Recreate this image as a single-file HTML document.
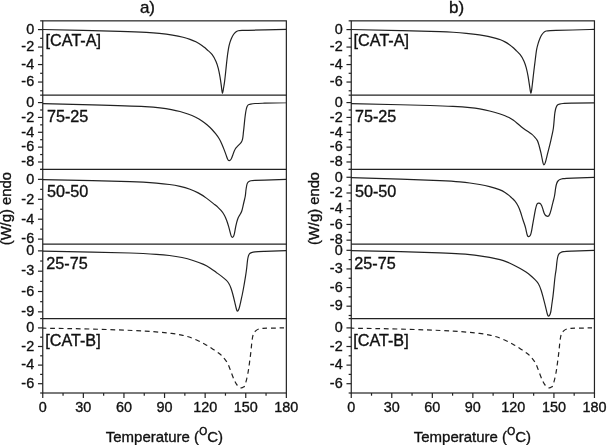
<!DOCTYPE html><html><head><meta charset="utf-8"><style>html,body{margin:0;padding:0;background:#fff;}svg{display:block;filter:blur(0.35px)}text{font-family:"Liberation Sans",Arial,sans-serif;fill:#111;stroke:#111;stroke-width:0.35px}</style></head><body>
<svg width="609" height="445" viewBox="0 0 609 445">
<g><rect x="42.75" y="20.85" width="243.6" height="372.15" fill="none" stroke="#222" stroke-width="1.2"/><line x1="42.75" y1="95.15" x2="286.35" y2="95.15" stroke="#222" stroke-width="1.2"/><line x1="42.75" y1="169.4" x2="286.35" y2="169.4" stroke="#222" stroke-width="1.2"/><line x1="42.75" y1="244.1" x2="286.35" y2="244.1" stroke="#222" stroke-width="1.2"/><line x1="42.75" y1="318.6" x2="286.35" y2="318.6" stroke="#222" stroke-width="1.2"/><line x1="40.15" y1="20.85" x2="42.75" y2="20.85" stroke="#222" stroke-width="1.2"/><line x1="37.95" y1="29.59" x2="42.75" y2="29.59" stroke="#222" stroke-width="1.2"/><line x1="40.15" y1="38.33" x2="42.75" y2="38.33" stroke="#222" stroke-width="1.2"/><line x1="37.95" y1="47.07" x2="42.75" y2="47.07" stroke="#222" stroke-width="1.2"/><line x1="40.15" y1="55.81" x2="42.75" y2="55.81" stroke="#222" stroke-width="1.2"/><line x1="37.95" y1="64.56" x2="42.75" y2="64.56" stroke="#222" stroke-width="1.2"/><line x1="40.15" y1="73.3" x2="42.75" y2="73.3" stroke="#222" stroke-width="1.2"/><line x1="37.95" y1="82.04" x2="42.75" y2="82.04" stroke="#222" stroke-width="1.2"/><line x1="40.15" y1="90.78" x2="42.75" y2="90.78" stroke="#222" stroke-width="1.2"/><text x="34.15" y="33.89" font-size="14.4" text-anchor="end">0</text><text x="34.15" y="51.37" font-size="14.4" text-anchor="end">-2</text><text x="34.15" y="68.86" font-size="14.4" text-anchor="end">-4</text><text x="34.15" y="86.34" font-size="14.4" text-anchor="end">-6</text><text x="45.6" y="46.3" font-size="16.2">[CAT-A]</text><line x1="40.15" y1="95.15" x2="42.75" y2="95.15" stroke="#222" stroke-width="1.2"/><line x1="37.95" y1="102.58" x2="42.75" y2="102.58" stroke="#222" stroke-width="1.2"/><line x1="40.15" y1="110" x2="42.75" y2="110" stroke="#222" stroke-width="1.2"/><line x1="37.95" y1="117.43" x2="42.75" y2="117.43" stroke="#222" stroke-width="1.2"/><line x1="40.15" y1="124.85" x2="42.75" y2="124.85" stroke="#222" stroke-width="1.2"/><line x1="37.95" y1="132.28" x2="42.75" y2="132.28" stroke="#222" stroke-width="1.2"/><line x1="40.15" y1="139.7" x2="42.75" y2="139.7" stroke="#222" stroke-width="1.2"/><line x1="37.95" y1="147.12" x2="42.75" y2="147.12" stroke="#222" stroke-width="1.2"/><line x1="40.15" y1="154.55" x2="42.75" y2="154.55" stroke="#222" stroke-width="1.2"/><line x1="37.95" y1="161.98" x2="42.75" y2="161.98" stroke="#222" stroke-width="1.2"/><line x1="40.15" y1="169.4" x2="42.75" y2="169.4" stroke="#222" stroke-width="1.2"/><text x="34.15" y="106.88" font-size="14.4" text-anchor="end">0</text><text x="34.15" y="121.73" font-size="14.4" text-anchor="end">-2</text><text x="34.15" y="136.58" font-size="14.4" text-anchor="end">-4</text><text x="34.15" y="151.43" font-size="14.4" text-anchor="end">-6</text><text x="34.15" y="166.28" font-size="14.4" text-anchor="end">-8</text><text x="46.9" y="122.2" font-size="16.2">75-25</text><line x1="40.15" y1="169.4" x2="42.75" y2="169.4" stroke="#222" stroke-width="1.2"/><line x1="37.95" y1="179.36" x2="42.75" y2="179.36" stroke="#222" stroke-width="1.2"/><line x1="40.15" y1="189.32" x2="42.75" y2="189.32" stroke="#222" stroke-width="1.2"/><line x1="37.95" y1="199.28" x2="42.75" y2="199.28" stroke="#222" stroke-width="1.2"/><line x1="40.15" y1="209.24" x2="42.75" y2="209.24" stroke="#222" stroke-width="1.2"/><line x1="37.95" y1="219.2" x2="42.75" y2="219.2" stroke="#222" stroke-width="1.2"/><line x1="40.15" y1="229.16" x2="42.75" y2="229.16" stroke="#222" stroke-width="1.2"/><line x1="37.95" y1="239.12" x2="42.75" y2="239.12" stroke="#222" stroke-width="1.2"/><text x="34.15" y="183.66" font-size="14.4" text-anchor="end">0</text><text x="34.15" y="203.58" font-size="14.4" text-anchor="end">-2</text><text x="34.15" y="223.5" font-size="14.4" text-anchor="end">-4</text><text x="34.15" y="243.42" font-size="14.4" text-anchor="end">-6</text><text x="46.9" y="196.7" font-size="16.2">50-50</text><line x1="37.95" y1="250.87" x2="42.75" y2="250.87" stroke="#222" stroke-width="1.2"/><line x1="40.15" y1="261.03" x2="42.75" y2="261.03" stroke="#222" stroke-width="1.2"/><line x1="37.95" y1="271.19" x2="42.75" y2="271.19" stroke="#222" stroke-width="1.2"/><line x1="40.15" y1="281.35" x2="42.75" y2="281.35" stroke="#222" stroke-width="1.2"/><line x1="37.95" y1="291.51" x2="42.75" y2="291.51" stroke="#222" stroke-width="1.2"/><line x1="40.15" y1="301.67" x2="42.75" y2="301.67" stroke="#222" stroke-width="1.2"/><line x1="37.95" y1="311.83" x2="42.75" y2="311.83" stroke="#222" stroke-width="1.2"/><text x="34.15" y="255.17" font-size="14.4" text-anchor="end">0</text><text x="34.15" y="275.49" font-size="14.4" text-anchor="end">-3</text><text x="34.15" y="295.81" font-size="14.4" text-anchor="end">-6</text><text x="34.15" y="316.13" font-size="14.4" text-anchor="end">-9</text><text x="46.3" y="268.8" font-size="16.2">25-75</text><line x1="40.15" y1="318.6" x2="42.75" y2="318.6" stroke="#222" stroke-width="1.2"/><line x1="37.95" y1="327.9" x2="42.75" y2="327.9" stroke="#222" stroke-width="1.2"/><line x1="40.15" y1="337.2" x2="42.75" y2="337.2" stroke="#222" stroke-width="1.2"/><line x1="37.95" y1="346.5" x2="42.75" y2="346.5" stroke="#222" stroke-width="1.2"/><line x1="40.15" y1="355.8" x2="42.75" y2="355.8" stroke="#222" stroke-width="1.2"/><line x1="37.95" y1="365.1" x2="42.75" y2="365.1" stroke="#222" stroke-width="1.2"/><line x1="40.15" y1="374.4" x2="42.75" y2="374.4" stroke="#222" stroke-width="1.2"/><line x1="37.95" y1="383.7" x2="42.75" y2="383.7" stroke="#222" stroke-width="1.2"/><line x1="40.15" y1="393" x2="42.75" y2="393" stroke="#222" stroke-width="1.2"/><text x="34.15" y="332.2" font-size="14.4" text-anchor="end">0</text><text x="34.15" y="350.8" font-size="14.4" text-anchor="end">-2</text><text x="34.15" y="369.4" font-size="14.4" text-anchor="end">-4</text><text x="34.15" y="388" font-size="14.4" text-anchor="end">-6</text><text x="45.2" y="345.5" font-size="16.2">[CAT-B]</text><line x1="42.75" y1="393" x2="42.75" y2="398" stroke="#222" stroke-width="1.2"/><text x="42.75" y="411.7" font-size="14.4" text-anchor="middle">0</text><line x1="63.05" y1="393" x2="63.05" y2="395.7" stroke="#222" stroke-width="1.2"/><line x1="83.35" y1="393" x2="83.35" y2="398" stroke="#222" stroke-width="1.2"/><text x="83.35" y="411.7" font-size="14.4" text-anchor="middle">30</text><line x1="103.65" y1="393" x2="103.65" y2="395.7" stroke="#222" stroke-width="1.2"/><line x1="123.95" y1="393" x2="123.95" y2="398" stroke="#222" stroke-width="1.2"/><text x="123.95" y="411.7" font-size="14.4" text-anchor="middle">60</text><line x1="144.25" y1="393" x2="144.25" y2="395.7" stroke="#222" stroke-width="1.2"/><line x1="164.55" y1="393" x2="164.55" y2="398" stroke="#222" stroke-width="1.2"/><text x="164.55" y="411.7" font-size="14.4" text-anchor="middle">90</text><line x1="184.85" y1="393" x2="184.85" y2="395.7" stroke="#222" stroke-width="1.2"/><line x1="205.15" y1="393" x2="205.15" y2="398" stroke="#222" stroke-width="1.2"/><text x="205.15" y="411.7" font-size="14.4" text-anchor="middle">120</text><line x1="225.45" y1="393" x2="225.45" y2="395.7" stroke="#222" stroke-width="1.2"/><line x1="245.75" y1="393" x2="245.75" y2="398" stroke="#222" stroke-width="1.2"/><text x="245.75" y="411.7" font-size="14.4" text-anchor="middle">150</text><line x1="266.05" y1="393" x2="266.05" y2="395.7" stroke="#222" stroke-width="1.2"/><line x1="286.35" y1="393" x2="286.35" y2="398" stroke="#222" stroke-width="1.2"/><text x="286.35" y="411.7" font-size="14.4" text-anchor="middle">180</text><text transform="translate(105.7,441.7)" font-size="15">Temperature (</text><text x="199.2" y="435.1" font-size="10.2" style="stroke-width:0.5px">O</text><text transform="translate(207.2,441.7)" font-size="15">C)</text><text x="139.9" y="12.6" font-size="17">a)</text><path d="M43 29.5C56.39 29.75 69.78 30 83 30.29C95.71 30.57 108.26 30.9 120 31.28C129.9 31.61 139.22 31.98 146.3 32.37C151.3 32.64 155.17 32.92 159.4 33.35C163.64 33.78 168.23 34.35 172.5 35.05C176.37 35.69 179.97 36.44 183.1 37.23C185.65 37.88 187.89 38.56 190 39.31C192 40.02 193.89 40.8 195.9 41.84C198 42.92 200.24 44.29 201.9 45.43C203.14 46.27 204.06 46.99 205 47.8C205.98 48.64 206.98 49.59 208.1 50.59C209.42 51.76 210.9 53.01 212.2 54.7C213.72 56.67 215.01 59.25 216 61.6C216.93 63.79 217.6 65.79 218.2 68.1C218.89 70.75 219.48 73.81 220 76.9C220.52 79.98 220.97 83.09 221.3 85.7C221.56 87.76 221.75 89.51 222 91.2C222.15 92.25 222.33 93.28 222.5 93.3C222.69 93.32 222.88 92.13 223.1 90.8C223.51 88.34 224.04 85.42 224.5 82.1C225.05 78.14 225.5 73.61 225.9 69.6C226.27 65.96 226.6 62.74 227 59.3C227.4 55.88 227.88 52.24 228.4 49.2C228.82 46.78 229.26 44.74 229.8 42.9C230.26 41.34 230.78 39.92 231.4 38.5C232.01 37.1 232.7 35.69 233.5 34.5C234.2 33.46 234.98 32.58 235.8 31.95C236.52 31.38 237.26 31 238.2 30.78C239.35 30.51 240.79 30.48 242.2 30.44C243.9 30.39 245.56 30.35 248 30.29C252.18 30.18 258.63 30.04 265 29.9C272.08 29.74 279.04 29.57 286 29.4" fill="none" stroke="#222" stroke-width="1.2" stroke-linejoin="round"/><path d="M43 103.7C58.66 104.07 74.32 104.45 92.5 104.93C111.23 105.43 132.63 106.04 145 106.65C151.62 106.98 155.66 107.31 160 107.83C163.8 108.29 167.84 108.89 171.4 109.55C174.52 110.13 177.27 110.76 180 111.5C182.65 112.21 185.27 113.03 187.9 113.98C190.56 114.95 193.23 116.06 195.7 117.28C197.99 118.41 200.1 119.64 202 120.92C203.77 122.11 205.35 123.36 207 124.78C208.72 126.26 210.51 127.93 212 129.51C213.34 130.92 214.44 132.25 215.6 133.73C216.83 135.29 218.12 137.01 219.2 138.8C220.26 140.56 221.12 142.4 221.9 144.2C222.67 145.97 223.38 147.72 224.1 149.6C224.88 151.61 225.68 153.78 226.4 155.9C227 157.65 227.54 159.38 228.2 160.1C228.53 160.47 228.89 160.58 229.3 160.53C229.81 160.47 230.4 160.15 230.9 159.5C231.78 158.36 232.4 156.19 233.1 154.1C233.8 152 234.58 149.99 235.4 148.7C235.96 147.82 236.55 147.28 237.2 146.63C237.9 145.93 238.68 145.11 239.4 144.4C240.07 143.74 240.69 143.18 241.2 142.4C241.82 141.47 242.29 140.22 242.6 138.8C242.97 137.12 243.12 135.2 243.3 133.4C243.48 131.6 243.69 129.93 243.9 128C244.14 125.81 244.37 123.29 244.6 121C244.82 118.87 245.04 116.94 245.3 115C245.54 113.23 245.81 111.46 246.1 110C246.33 108.86 246.56 107.92 246.9 107C247.2 106.18 247.58 105.39 248.2 104.9C248.84 104.39 249.73 104.21 250.7 104.04C251.94 103.83 253.33 103.64 255 103.52C257.49 103.34 260.64 103.3 264.6 103.21C270.52 103.08 278.26 102.84 286 102.6" fill="none" stroke="#222" stroke-width="1.2" stroke-linejoin="round"/><path d="M43 179.7C59.56 179.98 76.12 180.25 92.5 180.61C106.76 180.93 120.89 181.31 130 181.63C135.38 181.82 139.01 181.99 143.1 182.22C147.21 182.46 151.77 182.76 156.3 183.13C160.82 183.49 165.29 183.93 169.4 184.48C173.12 184.98 176.54 185.58 180 186.38C183.4 187.18 186.85 188.18 190 189.31C192.92 190.35 195.59 191.51 198.2 192.9C200.92 194.35 203.57 196.05 206.4 198.12C209.33 200.27 212.45 202.8 214.6 204.52C216 205.64 217 206.41 218 207.33C219 208.25 220 209.31 221 210.47C222.1 211.74 223.18 213.13 224.1 214.7C225.09 216.38 225.88 218.26 226.6 220.2C227.34 222.2 228.01 224.25 228.6 226.3C229.2 228.42 229.72 230.53 230.3 232.9C230.79 234.88 231.32 237.03 232.1 237.3C232.62 237.48 233.24 236.83 233.7 235.9C234.51 234.25 234.79 231.73 235.2 229.3C235.62 226.8 236.17 224.39 236.7 222.3C237.14 220.58 237.56 219.08 238.2 217.7C238.78 216.44 239.55 215.27 240.2 214.2C240.79 213.23 241.29 212.34 241.7 211.2C242.21 209.77 242.6 207.94 243 206.1C243.42 204.17 243.87 202.23 244.3 200.5C244.68 198.95 245.05 197.58 245.3 196C245.57 194.27 245.69 192.3 245.9 190.5C246.09 188.87 246.34 187.38 246.6 186C246.81 184.85 247.03 183.78 247.5 183C247.88 182.37 248.42 181.94 249 181.59C249.59 181.22 250.22 180.94 251 180.77C252.06 180.53 253.39 180.49 255 180.44C257.49 180.37 260.64 180.27 264.6 180.15C270.52 179.95 278.26 179.68 286 179.4" fill="none" stroke="#222" stroke-width="1.2" stroke-linejoin="round"/><path d="M43 251.1C59.56 251.43 76.11 251.76 92.5 252.11C106.76 252.42 120.9 252.75 130 253.02C135.38 253.18 139 253.32 143.1 253.52C147.22 253.73 151.84 253.99 156.3 254.3C160.75 254.61 165.06 254.96 169.4 255.49C173.68 256.01 177.99 256.69 182 257.53C185.79 258.34 189.31 259.28 193 260.46C196.68 261.63 200.53 263.02 203.6 264.39C206.07 265.5 208.03 266.6 210 267.89C211.98 269.19 213.95 270.67 216 272.18C218.06 273.68 220.2 275.21 222 276.6C223.49 277.76 224.76 278.83 225.9 279.92C226.95 280.92 227.89 281.94 228.7 283.2C229.61 284.62 230.35 286.34 231 288.2C231.74 290.31 232.38 292.59 233 295C233.66 297.56 234.3 300.27 234.9 302.8C235.43 305.05 235.92 307.16 236.4 309C236.69 310.13 236.98 311.16 237.4 311.2C237.84 311.24 238.44 310.18 238.9 309C239.62 307.17 240.03 305.03 240.5 302.8C241.03 300.31 241.64 297.69 242.2 295C242.8 292.12 243.34 289.17 243.9 286C244.49 282.65 245.1 279.06 245.6 275.9C246.04 273.11 246.4 270.65 246.7 268C246.99 265.42 247.22 262.67 247.5 260.5C247.71 258.87 247.94 257.56 248.3 256.3C248.6 255.24 249 254.22 249.6 253.6C250.11 253.08 250.76 252.84 251.5 252.62C252.46 252.33 253.56 252.07 255 251.89C257.35 251.61 260.59 251.55 264.6 251.45C270.59 251.28 278.29 250.99 286 250.7" fill="none" stroke="#222" stroke-width="1.2" stroke-linejoin="round"/><path d="M43 328.2C59.06 328.42 75.11 328.64 92.5 329.08C110.43 329.54 129.78 330.24 145.1 331.17C155.95 331.82 164.78 332.6 171.4 333.41C175.56 333.92 178.85 334.45 181.7 335.04C184.01 335.51 186.03 336.03 188.3 336.76C190.89 337.6 193.81 338.73 196.6 339.98C199.45 341.25 202.17 342.66 204.9 344.21C207.71 345.8 210.52 347.54 213.3 349.4C215.81 351.08 218.3 352.85 219.9 354.09C220.91 354.87 221.57 355.44 222.3 356.22C223.12 357.11 224.03 358.27 224.9 359.37C225.84 360.55 226.74 361.67 227.6 363.3C228.81 365.6 229.94 368.92 231.1 372.1C232.25 375.26 233.42 378.28 234.6 380.8C235.5 382.73 236.41 384.36 237.4 385.5C238.12 386.32 238.88 386.88 239.6 387.32C240.19 387.68 240.74 387.95 241.4 387.9C242.12 387.85 242.95 387.42 243.5 387.1C243.94 386.85 244.2 386.68 244.5 386.1C245.28 384.63 246.36 380.56 247.1 377.3C247.8 374.21 248.21 371.85 248.6 369.2C249.01 366.45 249.4 363.38 249.8 360.4C250.19 357.44 250.59 354.57 250.9 351.7C251.2 348.92 251.42 346.14 251.7 343.5C251.95 341.14 252.24 338.89 252.6 337C252.88 335.53 253.21 334.28 253.8 333.2C254.35 332.2 255.12 331.35 256 330.63C256.89 329.9 257.89 329.3 259 328.94C260.2 328.55 261.51 328.44 263 328.36C264.96 328.25 267.21 328.19 270 328.13C273.95 328.05 278.97 327.98 284 327.9" fill="none" stroke="#222" stroke-width="1.2" stroke-linejoin="round" stroke-dasharray="4.8 3.8" stroke-dashoffset="1.4"/></g>
<g><rect x="351.25" y="20.85" width="243.2" height="372.15" fill="none" stroke="#222" stroke-width="1.2"/><line x1="351.25" y1="95.15" x2="594.45" y2="95.15" stroke="#222" stroke-width="1.2"/><line x1="351.25" y1="169.4" x2="594.45" y2="169.4" stroke="#222" stroke-width="1.2"/><line x1="351.25" y1="244.1" x2="594.45" y2="244.1" stroke="#222" stroke-width="1.2"/><line x1="351.25" y1="318.6" x2="594.45" y2="318.6" stroke="#222" stroke-width="1.2"/><line x1="348.65" y1="20.85" x2="351.25" y2="20.85" stroke="#222" stroke-width="1.2"/><line x1="346.45" y1="29.59" x2="351.25" y2="29.59" stroke="#222" stroke-width="1.2"/><line x1="348.65" y1="38.33" x2="351.25" y2="38.33" stroke="#222" stroke-width="1.2"/><line x1="346.45" y1="47.07" x2="351.25" y2="47.07" stroke="#222" stroke-width="1.2"/><line x1="348.65" y1="55.81" x2="351.25" y2="55.81" stroke="#222" stroke-width="1.2"/><line x1="346.45" y1="64.56" x2="351.25" y2="64.56" stroke="#222" stroke-width="1.2"/><line x1="348.65" y1="73.3" x2="351.25" y2="73.3" stroke="#222" stroke-width="1.2"/><line x1="346.45" y1="82.04" x2="351.25" y2="82.04" stroke="#222" stroke-width="1.2"/><line x1="348.65" y1="90.78" x2="351.25" y2="90.78" stroke="#222" stroke-width="1.2"/><text x="342.65" y="33.89" font-size="14.4" text-anchor="end">0</text><text x="342.65" y="51.37" font-size="14.4" text-anchor="end">-2</text><text x="342.65" y="68.86" font-size="14.4" text-anchor="end">-4</text><text x="342.65" y="86.34" font-size="14.4" text-anchor="end">-6</text><text x="353.6" y="46.3" font-size="16.2">[CAT-A]</text><line x1="348.65" y1="95.15" x2="351.25" y2="95.15" stroke="#222" stroke-width="1.2"/><line x1="346.45" y1="102.58" x2="351.25" y2="102.58" stroke="#222" stroke-width="1.2"/><line x1="348.65" y1="110" x2="351.25" y2="110" stroke="#222" stroke-width="1.2"/><line x1="346.45" y1="117.43" x2="351.25" y2="117.43" stroke="#222" stroke-width="1.2"/><line x1="348.65" y1="124.85" x2="351.25" y2="124.85" stroke="#222" stroke-width="1.2"/><line x1="346.45" y1="132.28" x2="351.25" y2="132.28" stroke="#222" stroke-width="1.2"/><line x1="348.65" y1="139.7" x2="351.25" y2="139.7" stroke="#222" stroke-width="1.2"/><line x1="346.45" y1="147.12" x2="351.25" y2="147.12" stroke="#222" stroke-width="1.2"/><line x1="348.65" y1="154.55" x2="351.25" y2="154.55" stroke="#222" stroke-width="1.2"/><line x1="346.45" y1="161.98" x2="351.25" y2="161.98" stroke="#222" stroke-width="1.2"/><line x1="348.65" y1="169.4" x2="351.25" y2="169.4" stroke="#222" stroke-width="1.2"/><text x="342.65" y="106.88" font-size="14.4" text-anchor="end">0</text><text x="342.65" y="121.73" font-size="14.4" text-anchor="end">-2</text><text x="342.65" y="136.58" font-size="14.4" text-anchor="end">-4</text><text x="342.65" y="151.43" font-size="14.4" text-anchor="end">-6</text><text x="342.65" y="166.28" font-size="14.4" text-anchor="end">-8</text><text x="354.9" y="122.2" font-size="16.2">75-25</text><line x1="348.65" y1="169.4" x2="351.25" y2="169.4" stroke="#222" stroke-width="1.2"/><line x1="346.45" y1="177.26" x2="351.25" y2="177.26" stroke="#222" stroke-width="1.2"/><line x1="348.65" y1="185.13" x2="351.25" y2="185.13" stroke="#222" stroke-width="1.2"/><line x1="346.45" y1="192.99" x2="351.25" y2="192.99" stroke="#222" stroke-width="1.2"/><line x1="348.65" y1="200.85" x2="351.25" y2="200.85" stroke="#222" stroke-width="1.2"/><line x1="346.45" y1="208.72" x2="351.25" y2="208.72" stroke="#222" stroke-width="1.2"/><line x1="348.65" y1="216.58" x2="351.25" y2="216.58" stroke="#222" stroke-width="1.2"/><line x1="346.45" y1="224.44" x2="351.25" y2="224.44" stroke="#222" stroke-width="1.2"/><line x1="348.65" y1="232.31" x2="351.25" y2="232.31" stroke="#222" stroke-width="1.2"/><line x1="346.45" y1="240.17" x2="351.25" y2="240.17" stroke="#222" stroke-width="1.2"/><text x="342.65" y="181.56" font-size="14.4" text-anchor="end">0</text><text x="342.65" y="197.29" font-size="14.4" text-anchor="end">-2</text><text x="342.65" y="213.02" font-size="14.4" text-anchor="end">-4</text><text x="342.65" y="228.74" font-size="14.4" text-anchor="end">-6</text><text x="342.65" y="244.47" font-size="14.4" text-anchor="end">-8</text><text x="354.9" y="196.7" font-size="16.2">50-50</text><line x1="346.45" y1="250.31" x2="351.25" y2="250.31" stroke="#222" stroke-width="1.2"/><line x1="348.65" y1="259.62" x2="351.25" y2="259.62" stroke="#222" stroke-width="1.2"/><line x1="346.45" y1="268.93" x2="351.25" y2="268.93" stroke="#222" stroke-width="1.2"/><line x1="348.65" y1="278.25" x2="351.25" y2="278.25" stroke="#222" stroke-width="1.2"/><line x1="346.45" y1="287.56" x2="351.25" y2="287.56" stroke="#222" stroke-width="1.2"/><line x1="348.65" y1="296.87" x2="351.25" y2="296.87" stroke="#222" stroke-width="1.2"/><line x1="346.45" y1="306.18" x2="351.25" y2="306.18" stroke="#222" stroke-width="1.2"/><line x1="348.65" y1="315.5" x2="351.25" y2="315.5" stroke="#222" stroke-width="1.2"/><text x="342.65" y="254.61" font-size="14.4" text-anchor="end">0</text><text x="342.65" y="273.23" font-size="14.4" text-anchor="end">-3</text><text x="342.65" y="291.86" font-size="14.4" text-anchor="end">-6</text><text x="342.65" y="310.48" font-size="14.4" text-anchor="end">-9</text><text x="354.3" y="268.8" font-size="16.2">25-75</text><line x1="348.65" y1="318.6" x2="351.25" y2="318.6" stroke="#222" stroke-width="1.2"/><line x1="346.45" y1="327.9" x2="351.25" y2="327.9" stroke="#222" stroke-width="1.2"/><line x1="348.65" y1="337.2" x2="351.25" y2="337.2" stroke="#222" stroke-width="1.2"/><line x1="346.45" y1="346.5" x2="351.25" y2="346.5" stroke="#222" stroke-width="1.2"/><line x1="348.65" y1="355.8" x2="351.25" y2="355.8" stroke="#222" stroke-width="1.2"/><line x1="346.45" y1="365.1" x2="351.25" y2="365.1" stroke="#222" stroke-width="1.2"/><line x1="348.65" y1="374.4" x2="351.25" y2="374.4" stroke="#222" stroke-width="1.2"/><line x1="346.45" y1="383.7" x2="351.25" y2="383.7" stroke="#222" stroke-width="1.2"/><line x1="348.65" y1="393" x2="351.25" y2="393" stroke="#222" stroke-width="1.2"/><text x="342.65" y="332.2" font-size="14.4" text-anchor="end">0</text><text x="342.65" y="350.8" font-size="14.4" text-anchor="end">-2</text><text x="342.65" y="369.4" font-size="14.4" text-anchor="end">-4</text><text x="342.65" y="388" font-size="14.4" text-anchor="end">-6</text><text x="353.2" y="345.5" font-size="16.2">[CAT-B]</text><line x1="351.25" y1="393" x2="351.25" y2="398" stroke="#222" stroke-width="1.2"/><text x="351.25" y="411.7" font-size="14.4" text-anchor="middle">0</text><line x1="371.52" y1="393" x2="371.52" y2="395.7" stroke="#222" stroke-width="1.2"/><line x1="391.78" y1="393" x2="391.78" y2="398" stroke="#222" stroke-width="1.2"/><text x="391.78" y="411.7" font-size="14.4" text-anchor="middle">30</text><line x1="412.05" y1="393" x2="412.05" y2="395.7" stroke="#222" stroke-width="1.2"/><line x1="432.32" y1="393" x2="432.32" y2="398" stroke="#222" stroke-width="1.2"/><text x="432.32" y="411.7" font-size="14.4" text-anchor="middle">60</text><line x1="452.58" y1="393" x2="452.58" y2="395.7" stroke="#222" stroke-width="1.2"/><line x1="472.85" y1="393" x2="472.85" y2="398" stroke="#222" stroke-width="1.2"/><text x="472.85" y="411.7" font-size="14.4" text-anchor="middle">90</text><line x1="493.12" y1="393" x2="493.12" y2="395.7" stroke="#222" stroke-width="1.2"/><line x1="513.38" y1="393" x2="513.38" y2="398" stroke="#222" stroke-width="1.2"/><text x="513.38" y="411.7" font-size="14.4" text-anchor="middle">120</text><line x1="533.65" y1="393" x2="533.65" y2="395.7" stroke="#222" stroke-width="1.2"/><line x1="553.92" y1="393" x2="553.92" y2="398" stroke="#222" stroke-width="1.2"/><text x="553.92" y="411.7" font-size="14.4" text-anchor="middle">150</text><line x1="574.18" y1="393" x2="574.18" y2="395.7" stroke="#222" stroke-width="1.2"/><line x1="594.45" y1="393" x2="594.45" y2="398" stroke="#222" stroke-width="1.2"/><text x="594.45" y="411.7" font-size="14.4" text-anchor="middle">180</text><text transform="translate(413.7,441.7)" font-size="15">Temperature (</text><text x="507.2" y="435.1" font-size="10.2" style="stroke-width:0.5px">O</text><text transform="translate(515.2,441.7)" font-size="15">C)</text><text x="449.1" y="12.6" font-size="17">b)</text><path d="M351 29.5C367.41 29.83 383.82 30.17 400.5 30.56C415.4 30.91 430.52 31.3 440 31.64C445.46 31.83 449.05 32.01 453.1 32.27C457.17 32.54 461.7 32.89 466.3 33.35C470.89 33.81 475.54 34.37 479.4 34.94C482.54 35.4 485.16 35.86 488 36.46C490.75 37.03 493.71 37.74 496 38.36C497.73 38.83 499.08 39.25 500.5 39.8C501.96 40.37 503.49 41.07 505 41.9C506.57 42.77 508.11 43.78 509.5 44.78C510.78 45.7 511.93 46.62 513 47.56C514.04 48.48 515 49.42 516.1 50.45C517.39 51.67 518.87 53.01 520.2 54.7C521.7 56.61 523.01 58.97 524 61.2C524.94 63.32 525.6 65.32 526.2 67.6C526.88 70.15 527.49 73.05 528 75.9C528.51 78.72 528.91 81.48 529.3 84.1C529.65 86.47 529.98 88.72 530.3 90.8C530.5 92.08 530.69 93.3 530.9 93.3C531.13 93.3 531.38 91.83 531.6 90.3C531.97 87.8 532.26 85.14 532.6 82.1C533 78.52 533.45 74.42 533.9 70.7C534.33 67.15 534.76 63.94 535.2 60.3C535.66 56.54 536.13 52.31 536.7 49.2C537.11 46.97 537.57 45.31 538.1 43.6C538.6 42 539.16 40.36 539.8 38.8C540.4 37.34 541.07 35.96 541.8 34.8C542.41 33.83 543.07 33.02 543.8 32.37C544.49 31.76 545.25 31.29 546.2 31.01C547.35 30.66 548.78 30.59 550.2 30.54C551.9 30.48 553.58 30.44 556 30.39C560.1 30.29 566.34 30.14 572.6 29.98C579.71 29.8 586.86 29.6 594 29.4" fill="none" stroke="#222" stroke-width="1.2" stroke-linejoin="round"/><path d="M351 103.7C368.53 104.05 386.05 104.41 400.5 104.73C411.65 104.98 420.98 105.22 430 105.5C437.97 105.75 445.71 106.04 453 106.43C459.27 106.76 465.21 107.16 470 107.61C473.63 107.96 476.59 108.34 479.7 108.87C482.87 109.4 486.19 110.09 489.6 110.96C493.03 111.82 496.55 112.87 499.4 113.79C501.58 114.5 503.37 115.14 505 115.78C506.4 116.33 507.69 116.89 509 117.56C510.37 118.27 511.77 119.11 513.1 120.04C514.47 121 515.78 122.06 517.1 123.18C518.46 124.33 519.84 125.56 521.2 126.67C522.51 127.75 523.8 128.72 525.2 129.68C526.58 130.64 528.07 131.59 529.3 132.41C530.32 133.08 531.16 133.68 532 134.4C532.9 135.17 533.79 136.08 534.7 137.05C535.68 138.1 536.68 139.23 537.4 140.6C538.22 142.15 538.68 144.01 539.2 146C539.79 148.27 540.44 150.7 541 153.2C541.58 155.8 542.07 158.48 542.6 161.1C542.97 162.93 543.36 164.73 543.9 164.8C544.34 164.86 544.88 163.77 545.3 162.6C545.94 160.83 546.32 158.88 546.8 156.8C547.33 154.49 547.97 152.01 548.6 149.6C549.23 147.19 549.83 144.83 550.4 142.4C550.96 139.97 551.49 137.47 552 135.2C552.51 132.94 553.01 130.92 553.4 128C553.91 124.1 554.22 118.58 554.6 115C554.84 112.77 555.1 111.29 555.4 110C555.62 109.04 555.87 108.19 556.2 107.3C556.52 106.44 556.91 105.56 557.5 105C558.04 104.49 558.73 104.26 559.5 104.06C560.48 103.81 561.57 103.61 563 103.48C565.35 103.28 568.59 103.26 572.6 103.21C578.59 103.13 586.29 102.96 594 102.8" fill="none" stroke="#222" stroke-width="1.2" stroke-linejoin="round"/><path d="M351 177.7C367.71 178.16 384.42 178.61 400.5 179.13C414.87 179.59 428.73 180.1 440 180.65C448.02 181.04 454.73 181.45 460 181.9C463.72 182.22 466.72 182.55 469.9 182.98C473.08 183.4 476.43 183.92 479.7 184.5C483 185.08 486.22 185.72 489.6 186.58C493 187.45 496.57 188.55 499.4 189.68C501.61 190.56 503.37 191.45 505 192.47C506.45 193.38 507.81 194.37 509 195.39C510.08 196.3 511.02 197.23 512 198.12C513 199.04 514.03 199.92 515 201.1C516.14 202.49 517.19 204.29 518.1 206.1C519.06 208.02 519.86 209.96 520.6 212.2C521.44 214.74 522.22 217.65 523.1 220.3C523.98 222.95 524.96 225.33 525.7 228.4C526.42 231.39 526.91 235.04 527.7 236.2C527.99 236.63 528.33 236.72 528.7 236.66C529.19 236.58 529.74 236.25 530.2 235.5C531.16 233.92 531.69 230.49 532.2 227.4C532.74 224.15 533.26 221.29 533.8 218.3C534.34 215.31 534.9 212.19 535.5 209.2C535.98 206.82 536.48 204.53 537.3 203.6C537.73 203.12 538.24 203 538.8 203.06C539.47 203.12 540.2 203.42 540.8 204.1C541.73 205.17 542.33 207.17 542.9 209.2C543.49 211.29 544.04 213.41 544.9 214.7C545.46 215.54 546.15 216.03 546.9 216.2C547.58 216.36 548.32 216.26 548.9 215.7C549.89 214.76 550.44 212.52 551 210.2C551.67 207.44 552.35 204.57 553 202.1C553.56 199.96 554.1 198.11 554.5 196C554.92 193.76 555.19 191.22 555.5 189C555.76 187.12 556.05 185.46 556.5 184C556.87 182.81 557.34 181.75 558 181C558.56 180.35 559.26 179.93 560 179.58C560.84 179.18 561.74 178.87 563 178.66C565.21 178.28 568.54 178.17 572.6 178.05C578.65 177.86 586.33 177.63 594 177.4" fill="none" stroke="#222" stroke-width="1.2" stroke-linejoin="round"/><path d="M351 250.6C367.71 250.95 384.42 251.3 400.5 251.71C414.87 252.08 428.73 252.49 440 252.9C448.02 253.19 454.73 253.48 460 253.79C463.71 254 466.71 254.22 469.9 254.55C473.08 254.88 476.44 255.32 479.7 255.8C482.99 256.28 486.17 256.81 489.6 257.45C493.13 258.11 496.92 258.88 500 259.68C502.51 260.32 504.55 260.99 506.7 261.84C508.91 262.72 511.23 263.8 513.5 264.94C515.79 266.09 518.03 267.3 520.2 268.55C522.25 269.73 524.23 270.95 526 272.11C527.6 273.17 529.04 274.19 530.5 275.42C532.04 276.72 533.61 278.25 535 279.64C536.29 280.93 537.43 282.1 538.4 283.7C539.54 285.58 540.43 288.06 541.2 290.5C542.01 293.06 542.67 295.57 543.4 298.3C544.18 301.22 545.02 304.4 545.7 307.3C546.29 309.8 546.75 312.1 547.3 314C547.63 315.15 548 316.15 548.5 316.2C549.03 316.25 549.72 315.25 550.2 314C551.01 311.89 551.25 309.06 551.6 306.2C552 302.96 552.55 299.67 553 296.1C553.5 292.15 553.89 287.85 554.3 283.7C554.66 280.03 555.03 276.47 555.4 274C555.65 272.33 555.89 271.17 556.1 269.6C556.36 267.67 556.56 265.13 556.8 262.9C557.02 260.89 557.27 259.12 557.6 257.5C557.87 256.18 558.18 254.96 558.8 254.1C559.32 253.38 560.06 252.92 560.8 252.55C561.59 252.16 562.39 251.88 563.5 251.68C565.43 251.34 568.31 251.26 572 251.13C577.93 250.93 585.97 250.62 594 250.3" fill="none" stroke="#222" stroke-width="1.2" stroke-linejoin="round"/><path d="M351 328.2C367.06 328.42 383.11 328.64 400.5 329.08C418.43 329.54 437.78 330.24 453.1 331.17C463.95 331.82 472.78 332.6 479.4 333.41C483.56 333.92 486.85 334.45 489.7 335.04C492.01 335.51 494.03 336.03 496.3 336.76C498.89 337.6 501.81 338.73 504.6 339.98C507.45 341.25 510.17 342.66 512.9 344.21C515.71 345.8 518.52 347.54 521.3 349.4C523.81 351.08 526.3 352.85 527.9 354.09C528.91 354.87 529.57 355.44 530.3 356.22C531.12 357.11 532.03 358.27 532.9 359.37C533.84 360.55 534.74 361.67 535.6 363.3C536.81 365.6 537.94 368.92 539.1 372.1C540.25 375.26 541.42 378.28 542.6 380.8C543.5 382.73 544.41 384.36 545.4 385.5C546.12 386.32 546.88 386.88 547.6 387.32C548.19 387.68 548.74 387.95 549.4 387.9C550.12 387.85 550.95 387.42 551.5 387.1C551.94 386.85 552.2 386.68 552.5 386.1C553.28 384.63 554.36 380.56 555.1 377.3C555.8 374.21 556.21 371.85 556.6 369.2C557.01 366.45 557.4 363.38 557.8 360.4C558.19 357.44 558.59 354.57 558.9 351.7C559.2 348.92 559.42 346.14 559.7 343.5C559.95 341.14 560.24 338.89 560.6 337C560.88 335.53 561.21 334.28 561.8 333.2C562.35 332.2 563.12 331.35 564 330.63C564.89 329.9 565.89 329.3 567 328.94C568.2 328.55 569.51 328.44 571 328.36C572.96 328.25 575.21 328.19 578 328.13C581.95 328.05 586.97 327.98 592 327.9" fill="none" stroke="#222" stroke-width="1.2" stroke-linejoin="round" stroke-dasharray="4.8 3.8" stroke-dashoffset="1.4"/></g>
<text transform="translate(10.7,208.7) rotate(-90)" font-size="14.8" text-anchor="middle">(W/g) endo</text>
<text transform="translate(319.3,208.5) rotate(-90)" font-size="14.8" text-anchor="middle">(W/g) endo</text>
</svg></body></html>
